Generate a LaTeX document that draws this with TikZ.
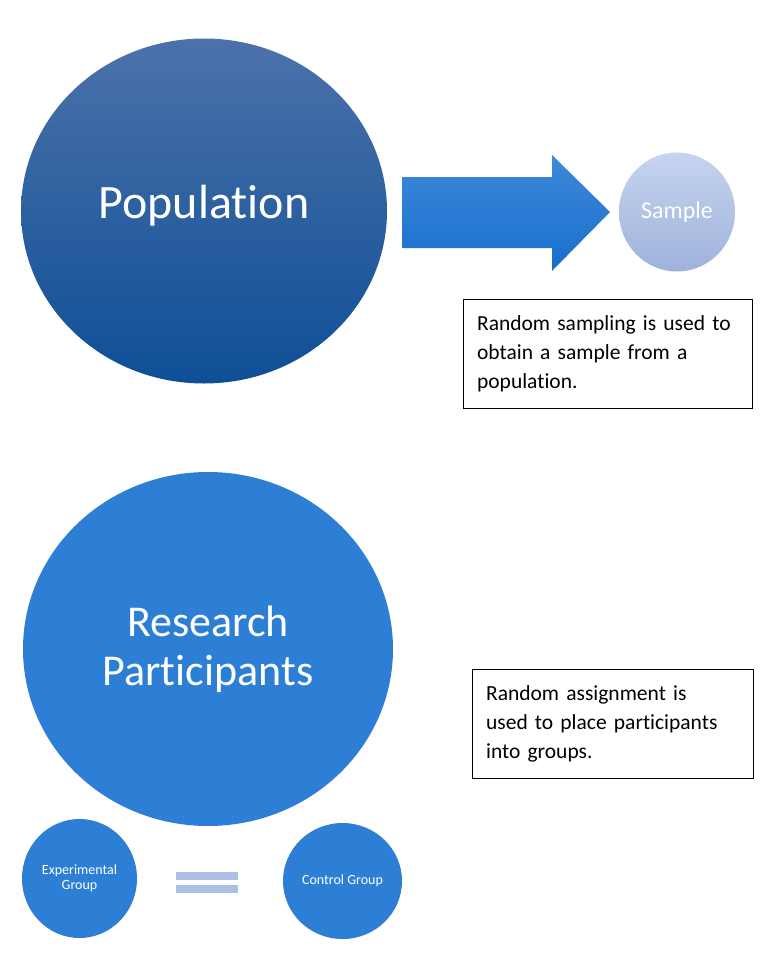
\documentclass[tikz,border=0pt]{standalone}
\usepackage{fontspec}
\setmainfont{Carlito}[Ligatures={NoCommon}]
\usepackage{tikz}
\usetikzlibrary{shapes.geometric, positioning, calc}
\definecolor{popTop}{RGB}{76,114,170}
\definecolor{popBottom}{RGB}{14,79,150}
\definecolor{arrowTop}{RGB}{62,137,216}
\definecolor{arrowBottom}{RGB}{24,110,205}
\definecolor{sampleTop}{RGB}{198,212,240}
\definecolor{sampleBottom}{RGB}{158,178,218}
\definecolor{partBlue}{RGB}{45,127,214}
\definecolor{eqBlue}{RGB}{172,192,230}

\begin{document}
\begin{tikzpicture}[
    x=1pt, y=-1pt,
    every node/.style={font=\fontsize{21.5}{29}\selectfont},
    disc/.style={ellipse, inner sep=0pt, text=white, align=center},
    note/.style={draw=black, line width=1.2pt, anchor=north west, align=left,
                 inner xsep=13.5pt, minimum height=109pt},
    eqbar/.style={fill=eqBlue, draw=none}
]
\useasboundingbox (0,0) rectangle (768,959);
% Top half: population -> sample
\node[disc, minimum width=366pt, minimum height=345pt, top color=popTop, bottom color=popBottom,
      text depth=18pt, font=\fontsize{48}{56}\selectfont] (population) at (204,211) {Population};
\node[disc, minimum width=116pt, minimum height=119pt, top color=sampleTop, bottom color=sampleBottom,
      font=\fontsize{24}{28}\selectfont] (sample) at (677,212) {Sample};
\shade[top color=arrowTop, bottom color=arrowBottom]
    (402,177) -- (552,177) -- (552,155) -- (610,212) -- (552,271) -- (552,248) -- (402,248) -- cycle;
\node[note, text width=262pt] (samplingnote) at (463,299)
    {Random sampling is used to\\obtain a sample from a\\population.};
% Bottom half: participants -> groups
\node[disc, minimum width=370pt, minimum height=354pt, fill=partBlue,
      font=\fontsize{44}{49}\selectfont] (participants) at (208,649) {Research\\Participants};
\node[note, text width=254pt] (assignnote) at (472,669)
    {Random assignment is\\used to place participants\\into groups.};
\node[disc, minimum width=115pt, minimum height=119pt, fill=partBlue,
      font=\fontsize{14}{15}\selectfont] (experimental) at (79.5,878.5) {Experimental\\Group};
\node[disc, minimum width=119pt, minimum height=116pt, fill=partBlue,
      font=\fontsize{14}{15}\selectfont] (control) at (342.5,881) {Control Group};
\fill[eqbar] (176,872) rectangle (238,880);
\fill[eqbar] (176,885) rectangle (238,893);
\end{tikzpicture}
\end{document}
